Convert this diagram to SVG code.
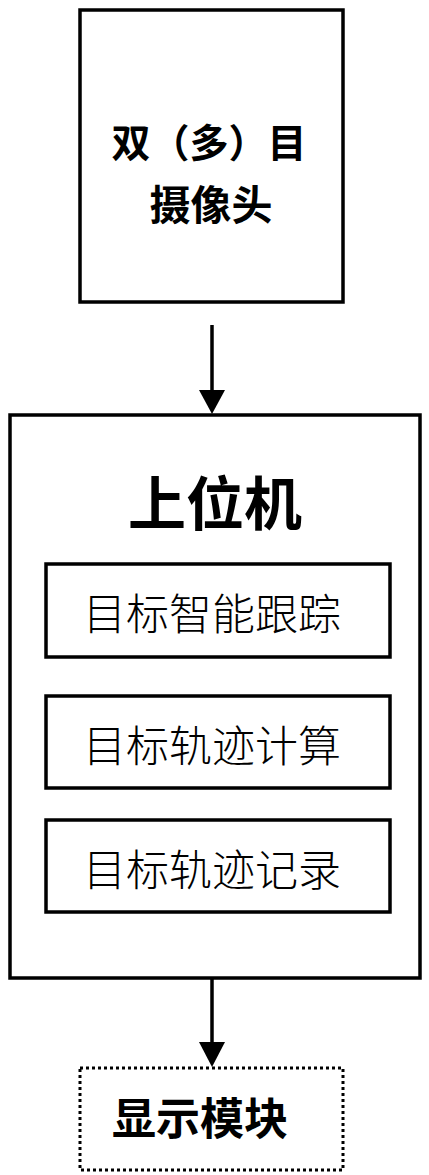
<svg xmlns="http://www.w3.org/2000/svg" width="429" height="1175" viewBox="0 0 429 1175">
<defs>
<style>
.box{fill:#fff;stroke:#000;stroke-width:3.5}
.dot{fill:#fff;stroke:#000;stroke-width:3;stroke-dasharray:3 3}
.bold{font-family:"Noto Sans CJK SC","Liberation Sans",sans-serif;font-weight:bold;fill:#000;text-anchor:middle}
.reg{font-family:"Noto Sans CJK SC","Liberation Sans",sans-serif;font-weight:300;fill:#000;text-anchor:middle;font-size:43px}
.conn{stroke:#000;stroke-width:3.5;fill:none}
.head{fill:#000}
</style>
</defs>
<g id="camera">
<rect class="box" x="80" y="10" width="263" height="292"/>
<text class="bold" x="209" y="157" font-size="39">双（多）目</text>
<text class="bold" x="211" y="220" font-size="41">摄像头</text>
</g>
<g id="host">
<rect class="box" x="10" y="415" width="410" height="563"/>
<text class="bold" x="215" y="525" font-size="58">上位机</text>
</g>
<g id="tracking">
<rect class="box" x="46" y="564" width="344" height="93"/>
<text class="reg" x="212" y="630">目标智能跟踪</text>
</g>
<g id="calc">
<rect class="box" x="46" y="696" width="344" height="92"/>
<text class="reg" x="212" y="762">目标轨迹计算</text>
</g>
<g id="record">
<rect class="box" x="46" y="820" width="344" height="92"/>
<text class="reg" x="212" y="886">目标轨迹记录</text>
</g>
<g id="display">
<rect class="dot" x="80" y="1068" width="263" height="102"/>
<text class="bold" x="200" y="1135" font-size="44">显示模块</text>
</g>
<g id="connectors">
<line class="conn" x1="212" y1="325" x2="212" y2="390"/>
<path class="head" d="M199,390 L225,390 L212,414 Z"/>
<line class="conn" x1="212" y1="979" x2="212" y2="1043"/>
<path class="head" d="M199,1042 L225,1042 L212,1067 Z"/>
</g>
</svg>
